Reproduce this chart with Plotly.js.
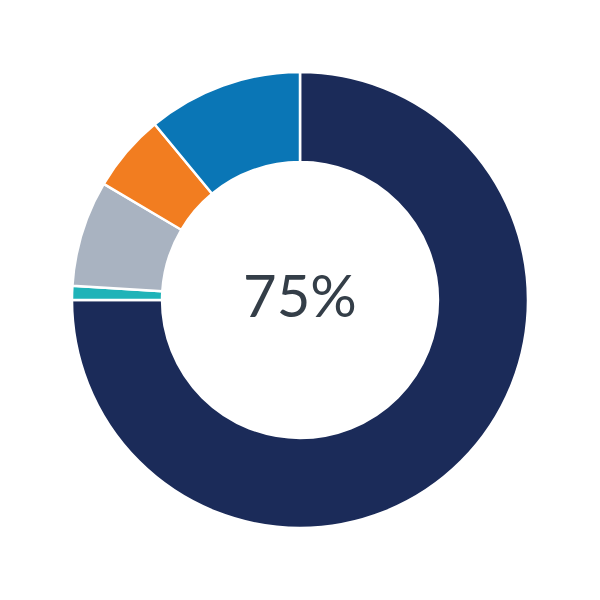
<!DOCTYPE html>
<html><head><meta charset="utf-8">
<script src="https://cdn.plot.ly/plotly-3.0.1.min.js"></script>
<style>body{margin:0;background:#fff}#chart{width:600px;height:600px}</style>
</head><body><div id="chart"></div>
<script>
const labels = ["A", "B", "C", "D", "E"];
const values = [75, 1, 7.5, 5.5, 11];
const colors = ["#1b2b59", "#1fb3b8", "#a9b3c1", "#f27d20", "#0a76b6"];
const centerText = "75%";

Plotly.newPlot("chart", [{
  type: "pie",
  labels: labels,
  values: values,
  sort: false,
  direction: "clockwise",
  rotation: 0,
  hole: 0.605,
  textinfo: "none",
  hoverinfo: "none",
  marker: {colors: colors, line: {color: "#ffffff", width: 2.5}}
}], {
  width: 600, height: 600,
  margin: {l: 72, r: 72, t: 72, b: 72},
  showlegend: false,
  paper_bgcolor: "#ffffff",
  annotations: [{
    text: centerText, x: 0.5, y: 0.5, xref: "paper", yref: "paper",
    showarrow: false, yshift: 6,
    font: {family: "Lato", size: 58, color: "#343e48"}
  }]
}, {displayModeBar: false, staticPlot: true});
</script></body></html>
